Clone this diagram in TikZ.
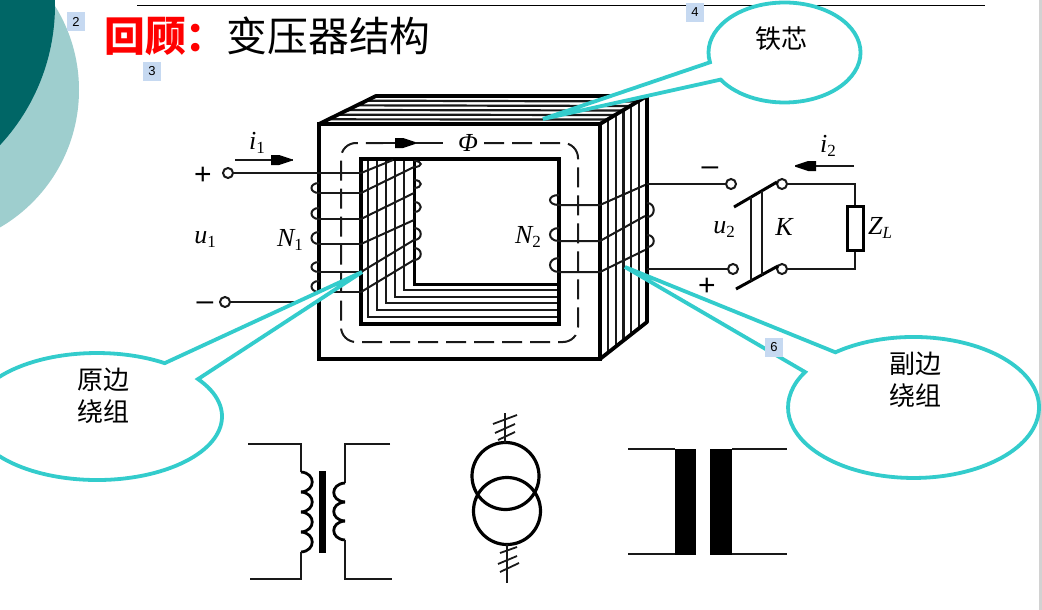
\documentclass[tikz,border=0pt]{standalone}
\usepackage{fontspec}
\usepackage{tikz}
\setmainfont{Liberation Serif}
\newfontfamily\cjk{Noto Sans CJK SC}
\newfontfamily\numfont{Liberation Sans}
\newcommand{\lowidx}[1]{\raisebox{-4pt}{\fontsize{17}{17}\selectfont #1}}
\definecolor{darkteal}{HTML}{006666}
\definecolor{lightteal}{HTML}{9ECECE}
\definecolor{calloutcol}{HTML}{33CCCC}
\definecolor{tagblue}{HTML}{C6D9F1}
\tikzset{
  wire/.style={line width=2pt,black!90},
  thinfe/.style={line width=2.2pt,black!90},
  thickfe/.style={line width=3.8pt,black},
  fluxline/.style={line width=2pt,black!90,dash pattern=on 20pt off 8pt},
  symline/.style={line width=2.2pt,black!90},
  callout/.style={line width=3.8pt,draw=calloutcol,fill=white,line join=miter},
  terminal/.style={circle,draw=black!90,line width=2pt,fill=white,inner sep=0pt,minimum size=10pt},
  lbl/.style={inner sep=0pt,font=\fontsize{26}{26}\selectfont\itshape},
  sign/.style={inner sep=0pt,font=\numfont\fontsize{30}{30}\selectfont},
  calltxt/.style={inner sep=0pt,align=center,font=\cjk\fontsize{26}{32}\selectfont},
  numtag/.style={fill=tagblue,inner sep=0pt,minimum width=18pt,minimum height=19pt,font=\numfont\fontsize{13}{13}\selectfont},
  flowhead/.pic={\fill[black] (0,-5) -- (8,-5) -- (20,-1) -- (20,1) -- (8,5) -- (0,5) -- cycle;}
}
\begin{document}
\begin{tikzpicture}[x=1pt,y=-1pt]
\useasboundingbox (0,0) rectangle (1042,610);
\clip (0,0) rectangle (1042,610);
\fill[white] (0,0) rectangle (1042,610);
\fill[lightgray!70] (1039,0) rectangle (1042,610);
% corner discs and top rule
\fill[lightteal] (-80,90) circle (159);
\fill[darkteal] (-151,5) circle (206);
\coordinate (rulel) at (137,6);
\coordinate (ruler) at (985,6);
\draw[line width=1pt] (rulel) -- (ruler);
\node (title) at (104,36) [anchor=west,inner sep=0pt,font=\cjk\fontsize{40.8}{41}\selectfont] {{\color{red}\bfseries 回顾：}变压器结构};

% laminations on the top and side
\foreach \k in {1,...,5} {
  \draw[thinfe] ({319+57*\k/6},{124-28*\k/6}) -- ({600+47*\k/6},{124-27*\k/6});
  \draw[thinfe] ({600+47*\k/6},{124-27*\k/6}) -- ({600+47*\k/6},{359-37*\k/6});
}
\draw[thickfe,line join=bevel] (319,124) -- (376,96) -- (647,96) -- (647,322) -- (600,359);
\draw[thickfe] (600,124) -- (647,96);
% laminations in the window
\foreach \x/\y in {368/317,377/310,386/303,395/297,404/290} {
  \draw[thinfe] (\x,159) -- (\x,\y) -- (559,\y);
}
\draw[thickfe] (319,124) rectangle (600,359);
\draw[thickfe] (361,159) rectangle (559,324);
\draw[line width=3pt] (414,159) -- (414,284) -- (559,284);

% primary winding
\foreach \a/\b in {173/160,193/167,219/193,244/220,272/240,292/260} {
  \draw[wire] (319,\a) -- (361,\a);
}
\draw[wire] (361,173) -- (393,160);
\foreach \a/\b in {193/167,219/193,244/220,272/240,292/260} {
  \draw[wire] (361,\a) -- (414,\b);
}
\foreach \a/\b in {183/193,208/219,232/244,262/272,281/292} {
  \draw[wire] (319,\a) .. controls (309,\a) and (309,\b) .. (319,\b);
}
\foreach \a/\b in {161/167,180/188,202/212,228/240,248/260} {
  \draw[wire] (414,\a) .. controls (423,\a) and (423,\b) .. (414,\b);
}
% secondary winding
\foreach \a/\b in {205/185,241/216,272/250} {
  \draw[wire] (559,\a) -- (600,\a) -- (645,\b);
}
\foreach \a/\b in {195/205,228/241,258/272} {
  \draw[wire] (559,\a) .. controls (547,\a) and (547,\b) .. (559,\b);
}
\foreach \a/\b in {203/217,235/247} {
  \draw[wire] (647,\a) .. controls (656,\a) and (656,\b) .. (647,\b);
}

% flux path
\draw[fluxline,rounded corners=15pt] (484,143) -- (578,143) -- (578,342) -- (341,342) -- (341,143) -- (383,143);
\draw[wire] (383,143) -- (443,143);
\pic at (395,143) {flowhead};
\node (phi) at (468,143) [lbl] {Φ};

% left side
\node (tplus) at (228,173) [terminal] {};
\node (tminus) at (225,302) [terminal] {};
\coordinate (pinu) at (319,173);
\coordinate (pind) at (319,302);
\draw[wire] (tplus) -- (pinu);
\draw[wire] (tminus) -- (pind);
\node (plusl) at (203,176) [sign] {+};
\node (minusl) at (205,306) [sign] {–};
\coordinate (ionea) at (235,160);
\coordinate (ioneb) at (293,160);
\draw[wire] (ionea) -- (ioneb);
\pic at (271,160) {flowhead};
\node (ione) at (257,143) [lbl] {i\lowidx{\upshape 1}};
\node (uone) at (205,240) [lbl] {u\lowidx{\upshape 1}};
\node (none) at (290,240) [lbl] {N\lowidx{\upshape 1}};
\node (ntwo) at (528,237) [lbl] {N\lowidx{\upshape 2}};

% right side
\node (ta) at (731,184) [terminal] {};
\node (tb) at (733,269) [terminal] {};
\node (sa) at (782,184) [terminal] {};
\node (sb) at (782,269) [terminal] {};
\node (rl) at (855,228) [draw,line width=3pt,fill=white,inner sep=0pt,minimum width=16pt,minimum height=44pt] {};
\coordinate (outa) at (647,184);
\coordinate (outb) at (647,269);
\coordinate (ca) at (855,184);
\coordinate (cb) at (855,269);
\draw[wire] (outa) -- (ta);
\draw[wire] (outb) -- (tb);
\draw[wire] (sa) -- (ca) -- (rl);
\draw[wire] (sb) -- (cb) -- (rl);
\draw[line width=3pt] (734,207) -- (777,182);
\draw[line width=3pt] (736,289) -- (778,266);
\draw[wire] (751,197) -- (751,281);
\draw[wire] (762,191) -- (762,275);
\node (minusr) at (710,171) [sign] {–};
\node (plusr) at (707,287) [sign] {+};
\coordinate (itwoa) at (854,166);
\coordinate (itwob) at (795,166);
\draw[wire] (itwoa) -- (itwob);
\pic[xscale=-1] at (816,166) {flowhead};
\node (itwo) at (828,146) [lbl] {i\lowidx{\upshape 2}};
\node (utwo) at (724,230) [lbl] {u\lowidx{\upshape 2}};
\node (swk) at (784,227) [lbl] {K};
\node (zl) at (880,228) [lbl] {Z\lowidx{L}};

% callouts
\coordinate (irontip) at (543,119);
\coordinate (ironbase) at (710,62.3);
\draw[callout] (irontip) -- (ironbase) arc (168.7:507.2:76 and 50) -- cycle;
\node (iron) at (781,39) [calltxt] {铁芯};
\coordinate (pritip) at (362,272);
\coordinate (pribase) at (198,379.1);
\draw[callout] (pritip) -- (pribase) arc (-36.1:302.8:125 and 63.5) -- cycle;
\node (pri) at (103,396) [calltxt] {原边\\绕组};
\coordinate (sectip) at (625,267);
\coordinate (secbase) at (835.4,352.3);
\draw[callout] (sectip) -- (secbase) arc (231.5:570.2:125.5 and 70.5) -- cycle;
\node (sec) at (915,380) [calltxt] {副边\\绕组};

% number tags
\node (tagb) at (76,21.5) [numtag] {2};
\node (tagc) at (152,71.5) [numtag] {3};
\node (tagd) at (695,12.5) [numtag] {4};
\node (tagf) at (774,347.5) [numtag] {6};

% symbol with coils
\draw[symline] (248,444) -- (301,444) -- (301,472);
\foreach \y in {472,492,512,532} {
  \draw[line width=2.8pt] (301,\y) .. controls (316,\y+1) and (316,{\y+19}) .. (301,{\y+20});
}
\draw[symline] (301,552) -- (301,579) -- (250,579);
\fill (319,471) rectangle (326,553);
\draw[symline] (390,444) -- (345,444) -- (345,483);
\foreach \y in {483,502,521} {
  \draw[line width=2.8pt] (345,\y) .. controls (330,\y+1) and (330,{\y+18}) .. (345,{\y+19});
}
\draw[symline] (345,540) -- (345,579) -- (392,579);

% symbol with two circles
\draw[line width=3.2pt] (505.5,476) circle (33.5);
\draw[line width=3.2pt] (507,511) circle (33.5);
\draw[symline] (505,413) -- (505,443);
\draw[symline] (507,544) -- (507,583);
\foreach \xa/\ya/\xb/\yb in {493/424/517/415,495/433/515/424,498/440/515/432,500/553/517/547,498/564/517/556,500/572/519/563} {
  \draw[line width=1.8pt,black!90] (\xa,\ya) -- (\xb,\yb);
}

% symbol with two bars
\fill (675,449) rectangle (696,555);
\fill (710,449) rectangle (732,555);
\draw[symline] (628,449) -- (675,449);
\draw[symline] (732,449) -- (787,449);
\draw[symline] (628,554) -- (675,554);
\draw[symline] (732,554) -- (787,554);
\end{tikzpicture}
\end{document}
